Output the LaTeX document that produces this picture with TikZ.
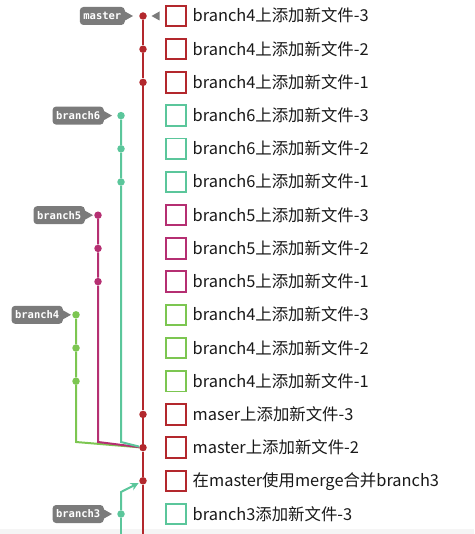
\documentclass[tikz,border=0pt]{standalone}
\usepackage{fontspec}
\setmainfont{Noto Sans CJK SC}
\newfontfamily\lblfont{DejaVu Sans Mono}
\usetikzlibrary{arrows.meta}
\definecolor{cred}{HTML}{B3282D}
\definecolor{cteal}{HTML}{5BC69B}
\definecolor{cmag}{HTML}{B52F72}
\definecolor{cgrn}{HTML}{7CC651}
\definecolor{cgray}{HTML}{7B7B7B}
\tikzset{
  cdot/.style={circle, fill=#1, inner sep=0pt, minimum size=7.5pt},
  cbox/.style={draw=#1, line width=1.9pt, minimum size=20.5pt, inner sep=0pt},
  msg/.style={anchor=base west, font=\fontsize{16.4}{19}\selectfont, text=black!90, inner sep=0pt},
  lbl/.style={fill=cgray, text=white, rounded corners=3.5pt, font=\lblfont\bfseries\fontsize{10.5}{12}\selectfont, inner xsep=3.5pt, inner ysep=0pt, minimum height=18pt, anchor=east},
  lane/.style={draw=#1, line width=2pt},
}
\begin{document}
\begin{tikzpicture}[x=1pt,y=-1pt]
\useasboundingbox (0,0) rectangle (474,534);
\fill[black!4] (0,529) rectangle (474,534);
% commit rows
\foreach \i/\c/\t in {0/cred/branch4上添加新文件-3,1/cred/branch4上添加新文件-2,2/cred/branch4上添加新文件-1,
  3/cteal/branch6上添加新文件-3,4/cteal/branch6上添加新文件-2,5/cteal/branch6上添加新文件-1,
  6/cmag/branch5上添加新文件-3,7/cmag/branch5上添加新文件-2,8/cmag/branch5上添加新文件-1,
  9/cgrn/branch4上添加新文件-3,10/cgrn/branch4上添加新文件-2,11/cgrn/branch4上添加新文件-1,
  12/cred/maser上添加新文件-3,13/cred/master上添加新文件-2,14/cred/在master使用merge合并branch3,
  15/cteal/branch3添加新文件-3}{
  \node[cbox=\c] (k\i) at (176,16+33.2*\i) {};
  \node[msg] (t\i) at (192.5,22+33.2*\i) {\t};
}
% master
\node[cdot=cred] (m0) at (143,16) {};
\node[cdot=cred] (m1) at (143,49.2) {};
\node[cdot=cred] (m2) at (143,82.4) {};
\node[cdot=cred] (m3) at (143,414.4) {};
\node[cdot=cred] (m4) at (143,447.6) {};
\node[cdot=cred] (m5) at (143,480.8) {};
\coordinate (mb) at (143,534);
% branch6
\node[cdot=cteal] (s0) at (121,115.6) {};
\node[cdot=cteal] (s1) at (121,148.8) {};
\node[cdot=cteal] (s2) at (121,182) {};
\coordinate (s3) at (121,442);
% branch5
\node[cdot=cmag] (f0) at (98,215.2) {};
\node[cdot=cmag] (f1) at (98,248.4) {};
\node[cdot=cmag] (f2) at (98,281.6) {};
\coordinate (f3) at (98,442);
% branch4
\node[cdot=cgrn] (g0) at (76,314.8) {};
\node[cdot=cgrn] (g1) at (76,348) {};
\node[cdot=cgrn] (g2) at (76,381.2) {};
\coordinate (g3) at (76,442);
% branch3
\node[cdot=cteal] (h0) at (121,514) {};
\coordinate (h1) at (121,492);
\coordinate (hb) at (121,534);
% lanes
\draw[lane=cgrn] (g0) -- (g1) -- (g2) -- (g3) -- (m4);
\draw[lane=cmag] (f0) -- (f1) -- (f2) -- (f3) -- (m4);
\draw[lane=cteal] (s0) -- (s1) -- (s2) -- (s3) -- (m4);
\draw[lane=cred] (m0) -- (m1) -- (m2) -- (m3) -- (m4) -- (m5) -- (mb);
\draw[lane=cteal, -{Stealth[length=8pt,width=8pt]}, shorten >=1pt] (h0) -- (h1) -- (m5);
\draw[lane=cteal] (h0) -- (hb);
% labels
\node[lbl] (lm) at (125,16) {master};
\node[lbl] (l6) at (104,115.6) {branch6};
\node[lbl] (l5) at (85,215.2) {branch5};
\node[lbl] (l4) at (63,314.8) {branch4};
\node[lbl] (l3) at (104,514) {branch3};
\foreach \n in {lm,l6,l5,l4,l3}{
  \fill[cgray] ([yshift=4.5pt]\n.east) -- ([xshift=8pt]\n.east) -- ([yshift=-4.5pt]\n.east) -- cycle;
}
\fill[cgray] (151.5,16) -- (159.5,11.5) -- (159.5,20.5) -- cycle;
\end{tikzpicture}
\end{document}
